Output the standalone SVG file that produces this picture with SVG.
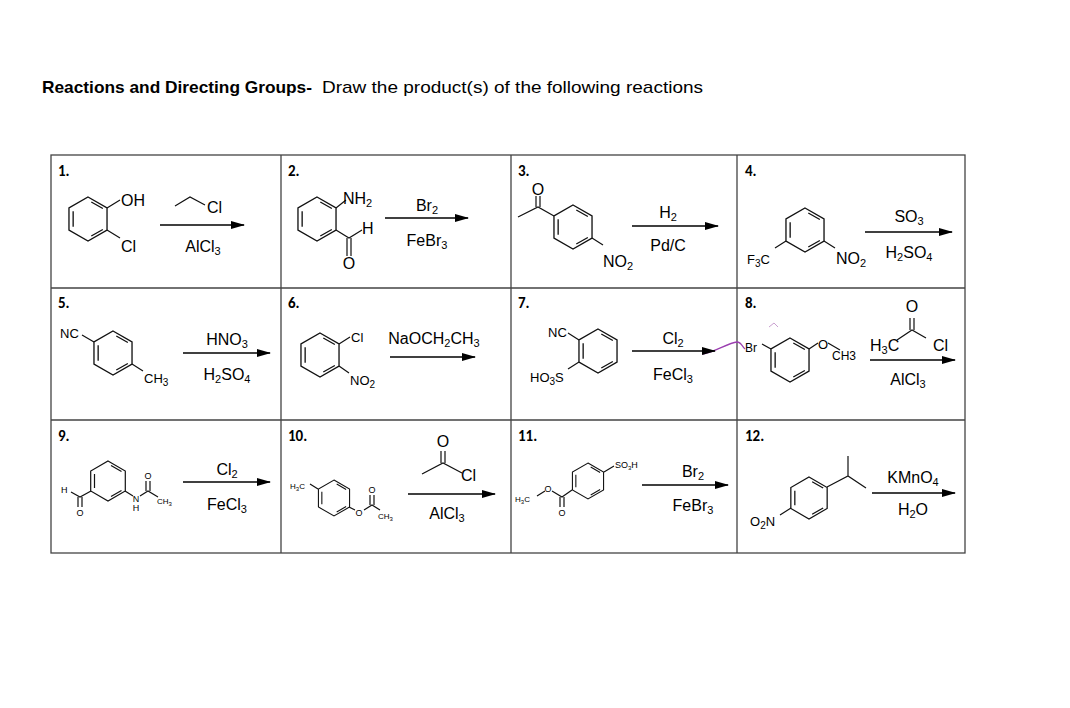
<svg xmlns="http://www.w3.org/2000/svg" width="1070" height="708" viewBox="0 0 1070 708">
<style>
text{font-family:"Liberation Sans",Arial,sans-serif;fill:#000}
.t{font-size:16px}
.s{font-size:10px}
.n{font-size:15px;font-weight:bold;font-family:Carlito,"Liberation Sans",sans-serif}
.b{stroke:#111;stroke-width:1.2;fill:none}
.g{stroke:#444;stroke-width:1.3;fill:none}
.a{stroke:#000;stroke-width:1.5;marker-end:url(#ah)}
</style>
<defs>
<marker id="ah" markerWidth="14" markerHeight="8" refX="13" refY="4" orient="auto" markerUnits="userSpaceOnUse"><path d="M0,0L14,4L0,8Z" fill="#000"/></marker>
<g id="ring" class="b"><path d="M0,-20L17.3,-10L17.3,10L0,20L-17.3,10L-17.3,-10Z"/><path d="M-13.5,-7L-13.5,7M3,-15.5L13.5,-9.5M3,15.5L13.5,9.5"/></g>
</defs>
<rect width="1070" height="708" fill="#fff"/>
<text x="42" y="93" style="font-size:17px;font-weight:bold" textLength="270" lengthAdjust="spacingAndGlyphs">Reactions and Directing Groups-</text>
<text x="322" y="93" style="font-size:17px" textLength="381" lengthAdjust="spacingAndGlyphs">Draw the product(s) of the following reactions</text>
<g id="table" class="g"><rect x="51" y="155" width="914" height="398"/><path d="M51,288H965M51,420H965M281,155V553M511,155V553M737,155V553"/></g>
<g id="r1"><text class="n" x="58" y="176">1.</text><use href="#ring" transform="translate(88,219) scale(1.1)"/><path class="b" d="M107,208L120,200M107,230L120,238M175,206L190,197L205,205"/><text class="t" x="121" y="206">OH</text><text class="t" x="121" y="252">Cl</text><text class="t" x="207" y="213">Cl</text><text class="t" x="203" y="252" text-anchor="middle">AlCl<tspan font-size="11" dy="3">3</tspan></text></g>
<g id="r2"><text class="n" x="288" y="176">2.</text><use href="#ring" transform="translate(317,219) scale(1.1)"/><path class="b" d="M336,208L346,200M336,230L349,238L362,230M347,238V256M351,238V256"/><text class="t" x="343" y="204">NH<tspan font-size="11" dy="3">2</tspan></text><text class="t" x="362" y="234">H</text><text class="t" x="349" y="269" text-anchor="middle">O</text><text class="t" x="427" y="211" text-anchor="middle">Br<tspan font-size="11" dy="3">2</tspan></text><text class="t" x="427" y="246" text-anchor="middle">FeBr<tspan font-size="11" dy="3">3</tspan></text></g>
<g id="r3"><text class="n" x="518" y="176">3.</text><use href="#ring" transform="translate(573,227) scale(1.1)"/><path class="b" d="M554,216L538,207L518,217M536,207V196M540,207V196M592,238L603,245"/><text class="t" x="538" y="195" text-anchor="middle">O</text><text class="t" x="603" y="267">NO<tspan font-size="11" dy="3">2</tspan></text><text class="t" x="668" y="218" text-anchor="middle">H<tspan font-size="11" dy="3">2</tspan></text><text class="t" x="668" y="251" text-anchor="middle">Pd/C</text></g>
<g id="r4"><text class="n" x="745" y="176">4.</text><use href="#ring" transform="translate(805,230) scale(1.1)"/><path class="b" d="M786,241L775,248M824,241L835,248"/><text class="t" x="747" y="264" style="font-size:13px">F<tspan font-size="10" dy="3">3</tspan><tspan dy="-3">C</tspan></text><text class="t" x="836" y="264">NO<tspan font-size="11" dy="3">2</tspan></text><text class="t" x="909" y="222" text-anchor="middle">SO<tspan font-size="11" dy="3">3</tspan></text><text class="t" x="909" y="258" text-anchor="middle">H<tspan font-size="11" dy="3">2</tspan><tspan dy="-3">SO</tspan><tspan font-size="11" dy="3">4</tspan></text></g>
<g id="r5"><text class="n" x="58" y="308">5.</text><use href="#ring" transform="translate(113,353) scale(1.1)"/><path class="b" d="M94,342L82,335M132,364L143,371"/><text class="t" x="60" y="338" style="font-size:13px">NC</text><text class="t" x="144" y="383" style="font-size:13px">CH<tspan font-size="10" dy="3">3</tspan></text><text class="t" x="227" y="345" text-anchor="middle">HNO<tspan font-size="11" dy="3">3</tspan></text><text class="t" x="227" y="380" text-anchor="middle">H<tspan font-size="11" dy="3">2</tspan><tspan dy="-3">SO</tspan><tspan font-size="11" dy="3">4</tspan></text></g>
<g id="r6"><text class="n" x="288" y="308">6.</text><use href="#ring" transform="translate(320,355) scale(1.1)"/><path class="b" d="M339,344L350,337M339,366L349,373"/><text class="t" x="351" y="342" style="font-size:13px">Cl</text><text class="t" x="350" y="385" style="font-size:13px">NO<tspan font-size="10" dy="3">2</tspan></text><text class="t" x="434" y="344" text-anchor="middle">NaOCH<tspan font-size="11" dy="3">2</tspan><tspan dy="-3">CH</tspan><tspan font-size="11" dy="3">3</tspan></text></g>
<g id="r7"><text class="n" x="518" y="308">7.</text><use href="#ring" transform="translate(598,351) scale(1.1)"/><path class="b" d="M579,340L568,333M579,362L568,369"/><text class="t" x="548" y="337" style="font-size:13px">NC</text><text class="t" x="530" y="382" style="font-size:13px">HO<tspan font-size="10" dy="3">3</tspan><tspan dy="-3">S</tspan></text><text class="t" x="673" y="344" text-anchor="middle">Cl<tspan font-size="11" dy="3">2</tspan></text><text class="t" x="673" y="380" text-anchor="middle">FeCl<tspan font-size="11" dy="3">3</tspan></text><path d="M703,354C715,352 728,343 737,342C741,342 742,346 745,349" stroke="#9b3fb0" stroke-width="1.3" fill="none"/></g>
<g id="r8"><text class="n" x="745" y="308">8.</text><use href="#ring" transform="translate(790,360) scale(1.1)"/><path class="b" d="M771,349L762,344M809,349L818,343M828,343L840,350M897,340L912,330L926,338M910,330V318M914,330V318"/><path d="M769,327L774,323L778,327" stroke="#c9a0d0" fill="none"/><text class="t" x="745" y="352" style="font-size:12px">Br</text><text class="t" x="818" y="349" style="font-size:13px">O</text><text class="t" x="832" y="360" style="font-size:12px">CH3</text><text class="t" x="912" y="312" text-anchor="middle">O</text><text class="t" x="870" y="351">H<tspan font-size="11" dy="3">3</tspan><tspan dy="-3">C</tspan></text><text class="t" x="933" y="351">Cl</text><text class="t" x="908" y="385" text-anchor="middle">AlCl<tspan font-size="11" dy="3">3</tspan></text></g>
<g id="r9"><text class="n" x="58" y="441">9.</text><use href="#ring" transform="translate(108,481)"/><path class="b" d="M91,491L80,497L71,492M78,497V507M82,497V507M125,491L133,496M140,496L148,491L158,497M146,491V481M150,491V481"/><text x="61" y="493" style="font-size:9px">H</text><text x="80" y="516" text-anchor="middle" style="font-size:9px">O</text><text x="136" y="502" text-anchor="middle" style="font-size:9px">N</text><text x="136" y="511" text-anchor="middle" style="font-size:9px">H</text><text x="148" y="479" text-anchor="middle" style="font-size:9px">O</text><text x="157" y="504" style="font-size:8px">CH<tspan dy="2" font-size="6">3</tspan></text><text class="t" x="227" y="475" text-anchor="middle">Cl<tspan font-size="11" dy="3">2</tspan></text><text class="t" x="227" y="510" text-anchor="middle">FeCl<tspan font-size="11" dy="3">3</tspan></text></g>
<g id="r10"><text class="n" x="288" y="441">10.</text><use href="#ring" transform="translate(334,498) scale(0.9)"/><path class="b" d="M318,489L310,484M349,507L355,510M364,510L372,505L380,510M370,505V495M374,505V495M422,474L443,463L462,473M441,463V451M445,463V451"/><text x="290" y="489" style="font-size:8px">H<tspan dy="2" font-size="6">3</tspan><tspan dy="-2">C</tspan></text><text x="359" y="516" text-anchor="middle" style="font-size:9px">O</text><text x="372" y="493" text-anchor="middle" style="font-size:9px">O</text><text x="378" y="519" style="font-size:8px">CH<tspan dy="2" font-size="6">3</tspan></text><text class="t" x="443" y="447" text-anchor="middle">O</text><text class="t" x="461" y="481">Cl</text><text class="t" x="447" y="519" text-anchor="middle">AlCl<tspan font-size="11" dy="3">3</tspan></text></g>
<g id="r11"><text class="n" x="518" y="441">11.</text><use href="#ring" transform="translate(588,481) scale(0.9)"/><path class="b" d="M604,472L614,466M572,490L562,497L552,491M545,491L537,496M560,497V507M564,497V507"/><text x="615" y="468" style="font-size:9px">SO<tspan dy="2" font-size="6">3</tspan><tspan dy="-2">H</tspan></text><text x="548" y="492" text-anchor="middle" style="font-size:9px">O</text><text x="562" y="516" text-anchor="middle" style="font-size:9px">O</text><text x="515" y="502" style="font-size:8px">H<tspan dy="2" font-size="6">3</tspan><tspan dy="-2">C</tspan></text><text class="t" x="693" y="477" text-anchor="middle">Br<tspan font-size="11" dy="3">2</tspan></text><text class="t" x="693" y="511" text-anchor="middle">FeBr<tspan font-size="11" dy="3">3</tspan></text></g>
<g id="r12"><text class="n" x="745" y="441">12.</text><use href="#ring" transform="translate(809,498) scale(1.05)"/><path class="b" d="M827,487L848,476L866,488M848,476V456M791,508L780,515"/><text class="t" x="750" y="526" style="font-size:13px">O<tspan font-size="10" dy="3">2</tspan><tspan dy="-3">N</tspan></text><text class="t" x="913" y="483" text-anchor="middle">KMnO<tspan font-size="11" dy="3">4</tspan></text><text class="t" x="913" y="515" text-anchor="middle">H<tspan font-size="11" dy="3">2</tspan><tspan dy="-3">O</tspan></text></g>
<g id="connectors">
<line class="a" x1="160" y1="225" x2="244" y2="225"/>
<line class="a" x1="385" y1="218" x2="468" y2="218"/>
<line class="a" x1="632" y1="226" x2="718" y2="226"/>
<line class="a" x1="865" y1="232" x2="952" y2="232"/>
<line class="a" x1="183" y1="353" x2="270" y2="353"/>
<line class="a" x1="390" y1="357" x2="475" y2="357"/>
<line class="a" x1="632" y1="351" x2="715" y2="351"/>
<line class="a" x1="870" y1="360" x2="955" y2="360"/>
<line class="a" x1="183" y1="482" x2="270" y2="482"/>
<line class="a" x1="408" y1="494" x2="495" y2="494"/>
<line class="a" x1="642" y1="485" x2="728" y2="485"/>
<line class="a" x1="872" y1="493" x2="955" y2="493"/>
</g>
</svg>
